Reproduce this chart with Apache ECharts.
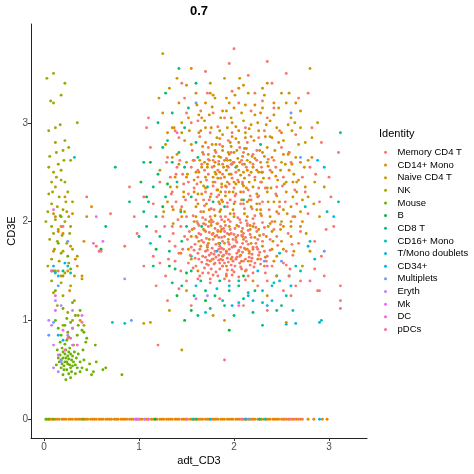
<!DOCTYPE html>
<html><head><meta charset="utf-8">
<script src="https://cdn.jsdelivr.net/npm/echarts@6/dist/echarts.min.js"></script>
<style>html,body{margin:0;padding:0;background:#fff}#c{width:474px;height:474px}</style>
</head><body><div id="c"></div>
<script>
const categories = ['Memory CD4 T','CD14+ Mono','Naive CD4 T','NK','Mouse','B','CD8 T','CD16+ Mono','T/Mono doublets','CD34+','Multiplets','Eryth','Mk','DC','pDCs'];
const palette = ['#F8766D','#E58700','#C99800','#A3A500','#6BB100','#00BA38','#00BF7D','#00C0AF','#00BCD8','#00B0F6','#619CFF','#B983FF','#E76BF3','#FD61D1','#FF67A4'];
const xTicks = [0,1,2,3];
const yTicks = [0,1,2,3];

// flat [x,y,...] pairs
const memoryCD4T = [1.85,1.75,1.92,1.68,1.78,1.82,2.05,1.71,1.66,1.59,1.97,1.88,2.12,1.62,1.73,1.95,1.88,1.55,2.01,1.93,1.81,1.64,1.59,1.77,2.18,1.84,1.94,1.79,1.70,1.70,2.08,1.52,1.87,2.02,1.63,1.88,2.25,1.72,1.99,1.60,1.76,1.52,2.14,1.96,1.54,1.66,1.90,1.85,2.03,1.79,1.83,1.91,1.68,1.79,2.22,1.58,1.95,1.72,1.80,1.70,2.10,1.88,1.62,1.98,1.86,1.62,2.30,1.80,1.75,2.05,2.00,2.08,1.57,1.53,2.16,1.70,1.91,1.96,1.72,1.61,2.06,1.65,1.84,1.84,1.48,1.85,2.35,1.65,1.79,1.57,1.98,1.51,2.20,2.03,1.65,2.10,1.89,1.72,2.04,1.86,
1.82,2.25,1.95,2.38,2.07,2.18,1.70,2.30,1.88,2.48,2.15,2.32,1.60,2.22,1.99,2.60,2.22,2.45,1.77,2.55,2.30,2.20,1.52,2.40,1.93,2.15,2.10,2.70,1.68,2.68,2.02,2.28,1.85,2.78,2.38,2.52,1.45,2.15,2.26,2.85,1.75,2.90,1.58,2.62,2.12,2.95,1.90,3.05,2.45,2.35,1.40,2.55,2.50,2.75,1.35,2.30,1.65,3.12,2.05,3.20,1.42,2.85,2.35,3.05,1.30,2.65,2.60,2.60,1.55,3.00,2.20,2.58,1.80,2.40,1.96,2.22,1.62,2.45,2.28,2.40,
1.25,2.05,1.32,1.80,1.38,1.60,1.44,1.95,1.28,1.45,1.50,1.40,1.22,2.40,1.18,1.90,1.35,2.15,1.12,2.75,1.08,2.95,1.15,1.65,2.45,1.85,2.55,1.70,2.40,1.55,2.62,2.05,2.70,1.90,2.48,2.15,2.58,1.45,2.75,2.30,2.80,2.55,2.85,1.80,2.90,2.20,2.95,1.45,3.00,2.45,3.05,1.95,3.10,2.70,2.82,2.95,2.68,3.25,2.40,3.40,1.95,3.60,2.00,3.75,2.78,3.30,1.10,3.05,1.05,2.25,0.95,2.05,0.90,2.35,0.85,1.75,3.12,1.35,3.12,1.20,2.92,1.65,2.88,1.30,2.70,1.40,2.60,1.25,2.52,1.30,2.35,1.40,2.25,1.35,2.15,1.45,1.95,1.40,1.75,1.38,1.62,1.42,1.42,1.32,1.30,1.20,1.55,1.15,1.85,1.22,2.10,1.15,2.35,1.10,0.20,1.95,0.45,2.25,0.55,1.75,0.60,1.70,0.15,1.50,0.70,2.08,0.25,0.82,1.20,0.75,
1.72,1.76,1.93,1.63,2.09,1.78,1.81,1.49,1.64,1.72,2.01,1.55,1.86,1.69,2.17,1.56,1.77,1.87,1.96,2.00,2.13,1.80,1.69,1.53,1.90,1.58,2.24,1.90,1.83,1.98,2.06,1.58,1.74,1.66,1.98,1.74,1.61,1.84,2.19,1.67,1.88,1.80,2.28,1.62,1.79,2.12,2.07,1.99,1.58,1.93,1.93,1.51,2.32,1.94,1.67,2.04,1.84,1.66,2.11,1.73,
1.87,2.35,1.98,2.44,1.76,2.28,2.09,2.40,1.91,2.30,1.83,2.52,2.02,2.50,1.71,2.42,2.17,2.26,1.94,2.55,
1.71,1.83,1.89,1.93,2.03,1.64,1.81,1.77,1.95,1.67,2.15,1.91,1.67,1.65,2.23,1.78,1.76,1.99,1.99,1.82,1.58,1.71,2.09,1.69,1.85,1.58,2.27,1.69,1.73,1.48,1.93,1.88,2.05,1.95,1.63,1.62,1.87,1.73,2.18,1.60,1.80,1.93,1.97,1.56,2.12,1.84,1.69,1.91,2.31,1.87,1.84,1.61,2.01,1.75,1.77,1.73,2.21,1.98,1.91,2.05,
1.85,2.18,2.00,2.34,1.73,2.48,2.13,2.55,1.92,2.64,1.66,2.58,2.24,2.62,1.81,2.70,2.06,2.75,1.58,2.34,2.33,2.34,1.94,2.82,1.69,2.16,2.19,2.13,1.88,2.58,2.04,2.42,1.78,2.36,2.10,2.30,
1.31,1.62,1.36,1.88,1.41,2.02,1.46,1.72,1.52,1.58,1.34,2.28,1.39,2.48,1.44,1.50,1.49,2.22,1.53,1.90,1.57,2.06,1.27,1.95,1.33,2.45,1.38,1.75,1.47,2.38,1.55,2.55,1.29,2.60,1.43,2.62,1.51,1.82,1.59,1.63,
1.64,1.45,1.71,1.57,1.78,1.46,1.85,1.52,1.92,1.47,2.00,1.49,2.07,1.54,2.13,1.51,2.21,1.54,2.28,1.57,1.62,1.68,1.70,1.64,1.77,1.62,1.88,1.61,2.02,1.62,2.10,1.60,2.19,1.63,2.26,1.66,1.66,1.81,1.74,1.89,1.82,1.86,1.90,1.90,2.00,1.87,2.09,1.93,2.17,1.87,2.25,1.82,1.63,1.96,1.70,2.02,1.78,2.00,1.86,2.05,1.94,2.02,2.04,2.04,2.13,2.01,2.22,2.06,2.30,1.99,1.76,1.68,1.84,1.72,1.95,1.77,2.07,1.74,2.15,1.77,2.20,1.74,1.73,1.56,1.89,1.66,1.98,1.64,2.03,1.68,
2.33,1.48,2.38,1.71,2.42,1.92,2.47,2.08,2.52,1.58,2.57,1.88,2.62,1.66,2.66,2.18,2.37,2.12,2.44,2.28,2.51,2.36,2.59,1.52,2.68,1.78,2.34,1.60,2.46,1.76,2.54,2.20,2.64,2.32,2.72,2.45,
1.52,2.28,1.61,2.38,1.69,2.52,1.78,2.62,1.86,2.44,1.97,2.58,2.08,2.62,2.16,2.47,2.26,2.34,2.37,2.44,1.56,2.72,1.64,2.86,1.73,2.75,1.83,2.96,1.98,2.90,2.14,2.80,2.24,2.72,2.32,2.92,2.42,2.62,2.48,2.92,1.62,3.02,1.78,3.10,2.18,3.12,2.30,3.22,1.48,3.25,1.92,2.35,2.01,2.20,1.74,2.22,2.11,2.13,2.27,2.18,
1.18,1.35,1.22,1.58,1.15,2.18,1.05,1.55,0.98,1.88,2.78,2.08,2.86,2.48,2.92,2.80,2.97,1.92,3.02,2.25,2.65,1.35,2.85,1.52,1.45,3.40,1.70,3.52,2.15,3.48,2.55,3.50,2.35,3.62,1.98,3.32,
1.60,1.55,1.67,1.48,1.75,1.42,1.83,1.45,1.90,1.42,1.98,1.46,2.05,1.44,2.12,1.41,2.20,1.48,1.65,1.87,1.72,1.71,1.80,1.58,1.87,1.84,1.94,1.59,2.02,1.81,2.08,1.86,2.16,1.64,2.24,1.74,2.32,1.70,2.38,1.82,1.55,1.74,1.61,2.00,1.70,1.97,1.79,1.67,1.86,1.95,1.96,1.92,2.06,2.02,2.14,1.98,2.23,1.94,2.29,2.06,1.68,2.22,1.76,2.13,1.84,2.27,1.93,2.19,2.01,2.26,2.10,2.18,2.18,2.22,2.26,2.26,1.62,2.52,1.73,2.63,1.84,2.61,1.97,2.70,2.09,2.58,2.20,2.68,2.29,2.55,1.50,2.05,1.46,2.48,1.39,2.20,1.35,1.95,1.42,1.68,2.40,2.00,2.49,1.97,2.55,1.56,2.61,1.77,2.36,2.63,2.44,2.55,2.52,2.45,2.58,2.70,2.65,2.88,2.42,3.15,2.22,3.30,1.72,3.30,1.50,3.10,1.38,2.92];
const memoryZero = [2.53,2.57,2.60,2.64,2.68,2.72];

const naiveCD4T = [1.90,2.45,2.02,2.38,1.84,2.58,2.10,2.50,1.96,2.62,1.78,2.40,2.15,2.68,1.88,2.72,2.05,2.80,1.72,2.55,2.22,2.42,1.99,2.30,1.82,2.85,2.12,2.90,1.67,2.70,2.28,2.60,1.93,2.95,2.00,2.18,1.75,2.25,2.18,2.15,1.60,2.50,2.35,2.75,1.86,3.05,2.08,3.10,1.70,2.95,2.25,3.00,1.55,2.78,2.40,2.50,1.95,3.20,2.30,3.15,1.63,3.08,2.45,2.95,1.80,3.25,2.15,3.30,1.50,2.60,2.50,2.60,1.45,2.90,2.55,3.20,1.92,2.52,2.04,2.64,1.87,2.38,2.13,2.34,1.79,2.66,1.97,2.76,2.20,2.55,1.68,2.36,2.08,2.22,1.84,2.20,
1.80,1.85,1.95,1.95,2.10,1.82,1.70,1.90,2.20,1.95,1.88,1.65,2.05,1.70,1.65,1.75,2.30,1.75,1.92,1.55,2.15,1.60,1.75,1.60,2.40,1.90,2.00,2.05,1.58,2.00,2.28,2.08,1.85,2.10,2.45,1.65,1.55,1.62,2.50,2.00,2.60,1.85,2.62,2.25,2.70,2.10,2.55,2.40,2.65,2.65,2.75,2.80,2.42,2.20,2.35,2.30,1.48,2.10,1.40,2.35,1.35,2.65,1.30,2.90,1.25,3.10,1.42,3.20,1.60,3.30,1.75,3.40,1.90,3.45,2.10,3.38,2.30,3.35,2.50,3.30,2.60,3.05,2.70,2.95,2.85,2.40,2.90,2.05,2.80,1.70,2.72,1.55,2.45,1.45,2.20,1.40,1.40,3.45,1.25,3.70,2.80,3.55,1.50,1.30,1.32,1.10,1.78,1.05,1.45,0.70,1.05,0.97,1.12,0.98,2.55,0.98,1.90,1.00,2.35,1.25,
1.89,2.55,2.07,2.47,1.81,2.48,2.17,2.60,1.93,2.40,1.74,2.62,2.11,2.74,1.98,2.86,1.86,2.65,2.26,2.50,1.70,2.45,2.03,2.56,1.91,2.26,2.20,2.35,1.77,2.78,2.14,2.20,1.83,2.32,2.32,2.66,1.64,2.62,2.00,2.70,
1.90,1.78,2.08,1.90,1.74,1.82,2.22,1.84,1.96,2.08,1.82,1.98,2.12,1.72,1.68,1.98,2.36,1.95,1.60,1.85,
1.58,2.42,1.66,2.55,1.73,2.68,1.81,2.78,1.88,2.88,1.95,2.48,2.03,2.72,2.11,2.58,2.19,2.66,2.27,2.72,2.35,2.60,2.43,2.72,2.52,2.82,1.62,2.28,1.71,2.18,1.79,2.56,1.86,2.30,1.94,2.70,2.02,2.96,2.10,3.02,2.18,2.86,2.26,2.92,2.34,2.98,2.42,3.08,2.49,2.52,2.57,2.68,2.61,2.92,1.53,2.92,1.61,3.18,1.69,3.02,1.77,3.16,1.84,2.66,1.92,3.12,2.01,3.28,2.09,2.38,2.16,2.22,2.24,2.28,2.31,2.44,2.39,2.34,2.46,2.42,2.54,2.58,2.63,2.48,2.68,2.78,1.98,2.58,1.90,2.62,2.05,2.52,1.83,2.44,2.14,2.62,
1.56,1.92,1.63,1.80,1.72,1.74,1.80,2.06,1.87,1.92,1.94,1.82,2.03,1.96,2.11,2.08,2.18,1.78,2.26,1.92,2.33,1.64,2.41,1.80,2.49,1.92,2.56,2.08,2.63,1.70,1.68,2.10,1.76,1.96,1.97,1.62,2.07,1.66,2.16,1.68,2.38,2.05,2.52,1.72,2.70,1.95,2.24,2.12,
1.22,2.52,1.28,2.78,1.33,2.35,1.37,2.95,1.42,2.58,1.47,2.30,1.26,2.10,1.36,1.98,1.44,2.12,1.21,3.25,1.32,3.35,1.50,3.38,
2.72,2.22,2.78,2.62,2.84,2.18,2.76,1.88,2.66,2.40,2.82,2.85,2.88,3.00,2.95,2.35,2.70,3.12,2.58,3.30,
1.85,2.92,1.97,3.05,2.12,3.18,2.22,3.08,1.74,3.08,1.63,2.90,2.38,2.86,2.47,3.15,2.53,2.38,2.61,2.58,2.05,2.40,1.91,2.36,1.80,2.50,2.18,2.50,2.29,2.50,1.69,2.60,1.57,2.62,1.88,2.20,2.00,2.60,2.11,2.44,1.99,2.12,1.86,2.12,2.24,2.18,2.36,2.20,1.62,2.18,1.51,2.48,2.45,2.26,2.66,2.30,2.74,2.55,2.78,2.25,2.64,3.00,2.32,3.28,2.06,3.45,1.78,3.28,1.45,3.00,2.17,1.92,2.27,1.86,1.83,1.90,1.74,2.00,2.43,2.00,2.52,2.12,2.60,2.00];

const cd14Mono = [1.82,2.32,1.97,2.48,2.06,2.60,1.74,2.12,2.16,2.40,1.90,2.00,1.66,2.28,2.25,2.25,1.86,1.90,2.02,1.84,1.73,1.78,2.14,2.05,1.95,2.68,1.80,2.60,2.30,2.50,1.60,2.15,2.38,1.98,1.70,2.80,2.12,2.85,1.98,3.00,1.55,1.85,2.40,2.65,1.50,2.45,2.55,2.30,1.88,3.12,2.22,3.18,1.65,2.92,2.45,2.10,1.45,2.05,2.60,1.95,1.78,1.62,2.08,1.60,1.62,1.50,2.32,1.55,1.92,1.45,2.20,1.72,1.52,1.72,2.50,1.80,2.68,2.42,2.72,2.00,1.38,2.45,1.30,2.20,2.82,2.65,1.35,2.95,2.05,3.35,1.75,3.30,2.35,3.40,2.65,3.20,1.55,3.55,2.40,2.85,2.18,2.98,1.85,2.50,
1.65,2.40,1.72,2.58,1.80,2.72,1.87,2.22,1.93,2.56,2.00,2.40,2.07,2.30,2.14,2.52,2.22,2.64,2.29,2.40,2.36,2.56,2.44,2.46,2.52,2.68,1.58,2.62,1.67,2.76,1.76,2.95,1.85,2.84,1.96,2.80,2.05,2.92,2.13,2.74,2.21,2.82,2.30,2.70,2.38,3.02,2.47,2.80,2.57,2.98,1.68,1.92,1.76,2.02,1.84,1.78,1.92,1.70,2.00,1.75,2.09,1.85,2.17,1.96,2.25,1.62,2.34,1.85,2.42,1.60,2.52,1.95,2.60,2.15,1.60,2.05,1.47,2.25,1.40,2.68,1.52,3.05,1.70,3.20,2.00,3.15,2.28,3.10,2.58,2.52,2.64,2.05,2.75,2.35,1.36,2.12,1.44,1.68,2.12,1.50,1.88,1.55,
1.78,2.45,1.93,2.62,2.09,2.66,2.24,2.52,2.35,2.34,1.70,2.34,1.63,2.50,1.88,2.76,2.02,2.84,2.16,2.94,2.33,2.86,2.50,2.90,2.58,2.70,1.58,2.30,1.95,2.30,2.10,2.36,2.28,2.12,1.78,1.88,1.95,1.87,2.14,1.72,2.40,1.72,2.62,2.40,2.70,2.60,1.66,3.05,1.92,3.25,2.42,3.20,1.48,2.82,2.48,2.20,
0.12,2.05,0.18,1.95,0.22,2.25,0.28,1.75,0.35,1.55,0.40,1.45,0.15,1.90,0.30,2.08,0.20,1.88,0.42,1.80,0.25,1.50,0.33,1.62,0.45,2.05,0.18,1.45,0.27,1.30,0.38,1.00,0.10,1.70,0.50,2.15];
const cd14MonoZero = [0.05,0.07,0.09,0.12,0.14,0.16,0.19,0.21,0.23,0.26,0.28,0.30,0.33,0.35,0.37,0.39,0.42,0.44,0.46,0.49,0.51,0.53,0.55,0.58,0.60,0.62,0.65,0.67,0.69,0.71,0.74,0.76,0.78,0.81,0.83,0.85,0.87,0.90,0.92,0.94,0.97,0.99,1.01,1.03,1.06,1.08,1.10,1.13,1.15,1.17,1.19,1.22,1.24,1.26,1.29,1.31,1.33,1.35,1.38,1.40,1.42,1.45,1.47,1.49,1.51,1.54,1.56,1.58,1.61,1.63,1.65,1.67,1.70,1.72,1.74,1.77,1.79,1.81,1.83,1.86,1.88,1.90,1.93,1.95,1.97,1.99,2.02,2.04,2.06,2.09,2.11,2.13,2.15,2.18,2.20,2.22,2.25,2.27,2.29,2.31,2.34,2.36,2.38,2.41,2.43,2.45,2.47,2.50,2.52,2.55,2.58,2.62,2.66,2.70,2.78,2.84,2.93,2.98];

const nk = [0.03,3.45,0.10,3.50,0.22,3.40,0.07,3.22,0.10,3.20,0.18,3.28,0.05,2.92,0.12,2.95,0.17,2.98,0.35,3.00,0.12,2.80,0.22,2.82,0.26,2.75,0.06,2.66,0.13,2.70,0.20,2.72,0.05,2.55,0.15,2.58,0.28,2.62,0.10,2.50,0.18,2.52,0.08,2.40,0.18,2.42,0.22,2.40,0.12,2.35,0.25,2.30,0.05,2.28,0.16,2.25,0.30,2.20,0.08,2.18,0.14,2.15,0.20,2.12,0.24,2.10,0.04,2.10,0.10,2.08,0.17,2.06,0.26,2.05,0.12,2.02,0.22,2.00,0.02,2.00,0.08,1.95,0.15,1.92,0.28,1.95,0.10,1.88,0.19,1.86,0.06,1.82,0.14,1.80,0.24,1.78,0.11,1.72,0.20,1.70,0.30,1.72,0.08,1.62,0.16,1.60,0.26,1.58,0.12,1.50,0.22,1.48,0.32,1.45,0.08,1.40,0.18,1.38,0.28,1.35,0.40,1.42,0.10,1.28,0.20,1.25,0.32,1.20,0.14,1.15,0.25,1.08,0.36,1.05,0.42,0.95,0.20,0.95,0.30,1.00,0.13,2.45,0.21,2.62,0.09,2.30,0.27,1.88,0.18,1.68,0.04,1.55,0.35,1.65,0.23,2.20];

const mouse = [0.20,0.62,0.24,0.58,0.22,0.66,0.27,0.55,0.18,0.60,0.25,0.64,0.29,0.60,0.21,0.54,0.23,0.70,0.26,0.68,0.19,0.56,0.28,0.52,0.31,0.58,0.17,0.65,0.24,0.50,0.30,0.64,0.22,0.58,0.26,0.61,0.20,0.68,0.33,0.55,0.16,0.58,0.28,0.66,0.23,0.62,0.25,0.56,0.35,0.52,0.19,0.72,0.27,0.72,0.32,0.68,0.21,0.50,0.29,0.48,0.15,0.62,0.34,0.62,0.22,0.76,0.30,0.54,0.18,0.52,0.26,0.46,0.38,0.58,0.24,0.80,0.36,0.66,0.13,0.55,0.40,0.52,0.31,0.75,0.17,0.78,0.42,0.60,0.33,0.46,0.28,0.42,0.23,0.40,0.45,0.50,0.38,0.48,0.14,0.70,0.41,0.70,0.20,0.45,0.48,0.56,0.50,0.45,0.52,0.48,0.55,0.58,0.62,0.50,0.65,0.52,0.82,0.45,0.54,0.75,0.44,0.78,
0.18,0.85,0.25,0.88,0.30,0.92,0.22,0.95,0.35,0.85,0.28,0.98,0.40,0.90,0.15,0.92,0.33,1.05,0.24,1.02,0.38,1.10,0.20,1.12,0.30,1.18,0.42,0.88,0.12,1.00,0.26,0.83,0.36,0.95,0.45,0.82,
0.12,1.30,0.20,1.45,0.25,1.65,0.15,1.78,0.28,1.52,0.18,2.05,0.10,1.50];
const mouseZero = [0.02,0.03,0.05,0.10,0.41];

const bCells = [1.12,2.60,1.02,2.40,1.48,1.00,1.40,1.25,1.25,2.15,1.32,1.55,1.08,2.25,1.70,1.20,1.55,1.10,1.95,0.90,1.50,1.48,0.60,1.72,1.30,2.38,2.10,1.45,1.18,1.72];
const bZero = [1.17];
const cd8T = [1.10,2.20,1.15,2.35,1.05,2.60,1.20,2.48,1.25,2.75,1.30,2.82,1.18,2.05,1.08,1.95,1.35,2.60,1.40,2.40,1.28,2.25,1.22,1.85,1.32,1.70,1.45,1.80,1.38,1.52,1.50,1.95,1.55,2.25,1.42,2.70,1.48,2.95,1.60,2.80,1.35,3.10,1.28,3.30,1.42,3.55,1.20,3.00,1.52,3.15,1.65,1.40,1.70,1.30,1.58,1.25,1.80,1.25,1.90,1.15,2.00,1.05,2.10,1.22,2.20,1.08,1.75,1.12,1.62,1.05,1.45,1.35,1.35,1.38,1.55,1.50,2.45,1.10,2.50,1.15,2.30,0.95,1.85,1.40,2.05,1.35,1.95,1.30,1.48,2.55,1.62,2.65,1.72,2.35,1.05,2.10,1.00,1.85,0.90,2.20,1.15,1.55,2.22,1.30,1.66,1.95,1.78,2.20,2.02,2.55,1.90,2.15,1.85,1.78,0.75,2.55,0.65,1.95,1.44,2.10,2.28,2.78,2.58,1.45,1.60,3.40,0.20,1.50];
const cd8Zero = [1.60,2.27];
const cd16Mono = [2.05,1.40,2.30,1.18,2.42,1.38,2.55,1.25,1.88,1.20,2.40,1.35,2.15,1.28,2.65,1.55,2.80,1.80,2.98,2.10,3.10,2.20,3.12,2.90,2.92,1.00,2.70,1.50,0.28,1.48,1.12,1.78,1.55,1.65,2.75,2.15,2.48,1.68,0.32,2.65];
const cd16Zero = [1.57,2.33];
const tMonoDoublets = [1.95,1.35,2.15,1.25,2.40,1.20,2.62,1.10,2.30,1.30,1.70,1.08,2.48,1.40,2.85,1.62,2.95,2.55,3.05,2.05,0.15,1.45,0.25,1.55,0.12,1.48,2.05,1.18,2.25,1.50,1.82,1.32,2.55,0.96,1.60,1.35,0.72,0.98,0.85,0.97];
const doubletZero = [1.75,2.12];
const cd34 = [2.20,1.20,2.45,1.45,2.60,1.35,2.35,1.15,2.78,1.75,2.88,2.62,0.10,1.55,0.20,0.80,1.98,1.15,2.10,2.22,1.82,1.70,0.15,0.85,2.90,0.98,2.65,0.97,0.22,1.58];
const cd34Zero = [2.90];
const multiplets = [2.60,3.10,2.50,1.60,2.70,2.65,0.08,1.50,0.15,1.35,0.25,1.80,0.10,0.98,0.92,1.00,1.60,3.20,2.32,1.60,2.95,1.70,0.18,0.60,0.05,0.85];
const multipletZero = [2.16];
const eryth = [0.05,1.00,0.08,0.95,0.10,0.75,0.18,0.58,0.15,0.48,0.12,1.20,0.30,1.10,0.25,0.85,0.10,0.52,1.72,1.25,0.85,1.42,0.18,1.15];
const erythZero = [0.96,1.06];
const mk = [0.12,1.10,0.20,0.90,0.30,0.92,0.40,1.05,0.62,1.80,0.15,0.65,0.55,2.05,0.10,2.12,1.60,1.22,0.30,0.75];
const mkZero = [1.00,1.10];
const dc = [0.22,0.70,0.35,0.75,2.05,1.15,0.12,1.25,1.40,2.90,2.35,1.55];
const dcZero = [0.97];
const pdcs = [0.08,1.50,0.40,0.98,0.52,1.78,0.58,1.70,2.80,1.40,3.12,1.12,2.90,1.30,0.28,0.82,1.90,0.60];
const pdcZero = [1.50,2.08];

function pts(flat, zeros) {
  const out = [];
  for (let i = 0; i + 1 < flat.length; i += 2) out.push([flat[i], flat[i + 1]]);
  (zeros || []).forEach(x => out.push([x, 0]));
  return out;
}
const colorOf = name => palette[categories.indexOf(name)];
function mk_s(name, data) {
  return { name, type: 'scatter', data, symbol: 'circle', symbolSize: 2.9,
    itemStyle: { color: colorOf(name), opacity: 1 }, emphasis: { disabled: true }, silent: true };
}
// draw order (legend order set separately)
const series = [
  mk_s('CD14+ Mono', pts([], cd14MonoZero)),
  mk_s('NK', pts(nk)),
  mk_s('Mouse', pts(mouse, mouseZero)),
  mk_s('CD8 T', pts(cd8T, cd8Zero)),
  mk_s('B', pts(bCells, bZero)),
  mk_s('CD16+ Mono', pts(cd16Mono, cd16Zero)),
  mk_s('T/Mono doublets', pts(tMonoDoublets, doubletZero)),
  mk_s('CD34+', pts(cd34, cd34Zero)),
  mk_s('Multiplets', pts(multiplets, multipletZero)),
  mk_s('Eryth', pts(eryth, erythZero)),
  mk_s('Mk', pts(mk, mkZero)),
  mk_s('DC', pts(dc, dcZero)),
  mk_s('pDCs', pts(pdcs, pdcZero)),
  mk_s('Naive CD4 T', pts(naiveCD4T)),
  mk_s('CD14+ Mono', pts(cd14Mono)),
  mk_s('Memory CD4 T', pts(memoryCD4T, memoryZero))
];

const FONT = '"Liberation Sans", Arial, sans-serif';
const chart = echarts.init(document.getElementById('c'), null, { renderer: 'canvas' });
chart.setOption({
  animation: false,
  backgroundColor: '#fff',
  textStyle: { fontFamily: FONT },
  title: [
    { text: '0.7', left: 199, top: 5, textAlign: 'center', padding: 0,
      textStyle: { fontSize: 13, fontWeight: 'bold', color: '#000', fontFamily: FONT } },
    { text: 'Identity', left: 379, top: 128, padding: 0,
      textStyle: { fontSize: 11, fontWeight: 'normal', color: '#000', fontFamily: FONT } }
  ],
  legend: {
    data: categories, orient: 'vertical', left: 384, top: 146, padding: 0,
    icon: 'circle', itemWidth: 14, itemHeight: 3, itemGap: 0,
    selectedMode: false,
    textStyle: { fontSize: 9.5, color: '#000', fontFamily: FONT, lineHeight: 12.65, padding: 0 }
  },
  grid: { left: 31, right: 107, top: 24, bottom: 36, containLabel: false, outerBoundsMode: 'none' },
  xAxis: {
    type: 'value', min: -0.137, max: 3.4,
    name: 'adt_CD3', nameLocation: 'middle', nameGap: 17, nameMoveOverlap: false,
    nameTextStyle: { fontSize: 11, color: '#000', fontFamily: FONT },
    axisLine: { show: true, onZero: false, lineStyle: { color: '#222', width: 1 } },
    axisTick: { show: true, length: 3, customValues: xTicks, lineStyle: { color: '#333' } },
    axisLabel: { customValues: xTicks, fontSize: 10, color: '#4d4d4d', margin: 4, fontFamily: FONT },
    splitLine: { show: false }
  },
  yAxis: {
    type: 'value', min: -0.19, max: 4.0,
    name: 'CD3E', nameLocation: 'middle', nameGap: 14, nameRotate: 90, nameMoveOverlap: false,
    nameTextStyle: { fontSize: 11, color: '#000', fontFamily: FONT },
    axisLine: { show: true, onZero: false, lineStyle: { color: '#222', width: 1 } },
    axisTick: { show: true, length: 3, customValues: yTicks, lineStyle: { color: '#333' } },
    axisLabel: { customValues: yTicks, fontSize: 10, color: '#4d4d4d', margin: 3, fontFamily: FONT },
    splitLine: { show: false }
  },
  series
});
</script>
</body></html>
